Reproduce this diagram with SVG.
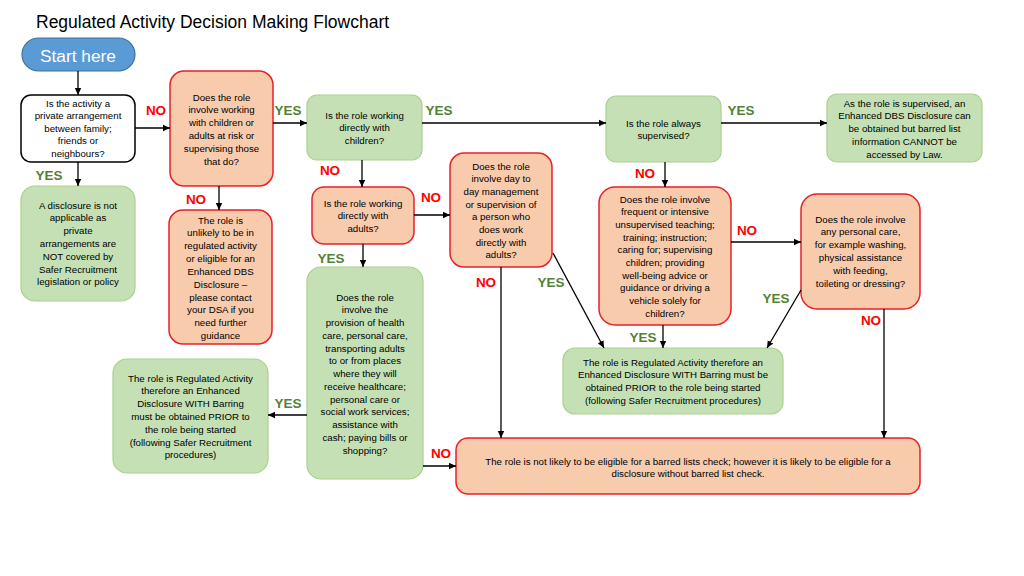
<svg xmlns="http://www.w3.org/2000/svg" width="1024" height="576" viewBox="0 0 1024 576">
<defs>
<marker id="ah" markerWidth="8" markerHeight="8" refX="7" refY="4" orient="auto" markerUnits="userSpaceOnUse">
<path d="M0,0.8 L7,4 L0,7.2 Z" fill="#000"/>
</marker>
<style>
.g{fill:#c5e0b4;stroke:#a9d18e;stroke-width:1.2}
.o{fill:#f8cbad;stroke:#e8202a;stroke-width:1.5}
.w{fill:#fff;stroke:#000;stroke-width:1.5}
.t{font-family:"Liberation Sans",Arial,sans-serif;font-size:9.7px;fill:#000;text-anchor:middle}
.yes{font-family:"Liberation Sans",Arial,sans-serif;font-size:13.5px;font-weight:bold;fill:#548235;text-anchor:middle}
.no{font-family:"Liberation Sans",Arial,sans-serif;font-size:13.5px;font-weight:bold;fill:#ff0000;text-anchor:middle}
.c line{stroke:#000;stroke-width:1.3;marker-end:url(#ah)}
</style>
</defs>
<rect width="1024" height="576" fill="#fff"/>
<text x="36" y="28" font-family="Liberation Sans,Arial,sans-serif" font-size="17.5" fill="#000">Regulated Activity Decision Making Flowchart</text>

<g id="start">
<rect x="22" y="38" width="113" height="33" rx="16.5" fill="#5b9bd5" stroke="#41719c" stroke-width="1.2"/>
<text x="78" y="61.5" text-anchor="middle" font-family="Liberation Sans,Arial,sans-serif" font-size="17.3" fill="#fff">Start here</text>
</g>

<g id="q-private">
<rect class="w" x="21" y="95" width="114" height="67" rx="10"/>
<text class="t" x="78" y="106.5"><tspan x="78">Is the activity a</tspan><tspan x="78" dy="12.6">private arrangement</tspan><tspan x="78" dy="12.6">between family;</tspan><tspan x="78" dy="12.6">friends or</tspan><tspan x="78" dy="12.6">neighbours?</tspan></text>
</g>

<g id="r-private">
<rect class="g" x="21" y="186" width="114" height="115" rx="14"/>
<text class="t" x="78" y="208.5"><tspan x="78">A disclosure is not</tspan><tspan x="78" dy="12.8">applicable as</tspan><tspan x="78" dy="12.8">private</tspan><tspan x="78" dy="12.8">arrangements are</tspan><tspan x="78" dy="12.8">NOT covered by</tspan><tspan x="78" dy="12.8">Safer Recruitment</tspan><tspan x="78" dy="12.8">legislation or policy</tspan></text>
</g>

<g id="q-working">
<rect class="o" x="170" y="71" width="103" height="115" rx="14"/>
<text class="t" x="221.5" y="100.5"><tspan x="221.5">Does the role</tspan><tspan x="221.5" dy="12.8">involve working</tspan><tspan x="221.5" dy="12.8">with children or</tspan><tspan x="221.5" dy="12.8">adults at risk or</tspan><tspan x="221.5" dy="12.8">supervising those</tspan><tspan x="221.5" dy="12.8">that do?</tspan></text>
</g>

<g id="r-unlikely">
<rect class="o" x="169" y="210" width="103" height="134" rx="14"/>
<text class="t" x="220.5" y="223.5"><tspan x="220.5">The role is</tspan><tspan x="220.5" dy="12.85">unlikely to be in</tspan><tspan x="220.5" dy="12.85">regulated activity</tspan><tspan x="220.5" dy="12.85">or eligible for an</tspan><tspan x="220.5" dy="12.85">Enhanced DBS</tspan><tspan x="220.5" dy="12.85">Disclosure –</tspan><tspan x="220.5" dy="12.85">please contact</tspan><tspan x="220.5" dy="12.85">your DSA if you</tspan><tspan x="220.5" dy="12.85">need further</tspan><tspan x="220.5" dy="12.85">guidance</tspan></text>
</g>

<g id="q-children">
<rect class="g" x="307" y="95" width="115" height="65" rx="10"/>
<text class="t" x="364.5" y="118.5"><tspan x="364.5">Is the role working</tspan><tspan x="364.5" dy="12.9">directly with</tspan><tspan x="364.5" dy="12.9">children?</tspan></text>
</g>

<g id="q-adults">
<rect class="o" x="312" y="187" width="102" height="57" rx="12"/>
<text class="t" x="363" y="206.5"><tspan x="363">Is the role working</tspan><tspan x="363" dy="12.9">directly with</tspan><tspan x="363" dy="12.9">adults?</tspan></text>
</g>

<g id="q-management">
<rect class="o" x="450" y="153" width="102" height="114" rx="14"/>
<text class="t" x="501" y="169.5"><tspan x="501">Does the role</tspan><tspan x="501" dy="12.7">involve day to</tspan><tspan x="501" dy="12.7">day management</tspan><tspan x="501" dy="12.7">or supervision of</tspan><tspan x="501" dy="12.7">a person who</tspan><tspan x="501" dy="12.7">does work</tspan><tspan x="501" dy="12.7">directly with</tspan><tspan x="501" dy="12.7">adults?</tspan></text>
</g>

<g id="q-health">
<rect class="g" x="307" y="267" width="116" height="212" rx="14"/>
<text class="t" x="365" y="300.5"><tspan x="365">Does the role</tspan><tspan x="365" dy="12.75">involve the</tspan><tspan x="365" dy="12.75">provision of health</tspan><tspan x="365" dy="12.75">care, personal care,</tspan><tspan x="365" dy="12.75">transporting adults</tspan><tspan x="365" dy="12.75">to or from places</tspan><tspan x="365" dy="12.75">where they will</tspan><tspan x="365" dy="12.75">receive healthcare;</tspan><tspan x="365" dy="12.75">personal care or</tspan><tspan x="365" dy="12.75">social work services;</tspan><tspan x="365" dy="12.75">assistance with</tspan><tspan x="365" dy="12.75">cash; paying bills or</tspan><tspan x="365" dy="12.75">shopping?</tspan></text>
</g>

<g id="r-regulated-left">
<rect class="g" x="113" y="359" width="155" height="114" rx="14"/>
<text class="t" x="190.5" y="381.5"><tspan x="190.5">The role is Regulated Activity</tspan><tspan x="190.5" dy="12.8">therefore an Enhanced</tspan><tspan x="190.5" dy="12.8">Disclosure WITH Barring</tspan><tspan x="190.5" dy="12.8">must be obtained PRIOR to</tspan><tspan x="190.5" dy="12.8">the role being started</tspan><tspan x="190.5" dy="12.8">(following Safer Recruitment</tspan><tspan x="190.5" dy="12.8">procedures)</tspan></text>
</g>

<g id="q-supervised">
<rect class="g" x="606" y="96" width="115" height="66" rx="10"/>
<text class="t" x="663.5" y="126.5"><tspan x="663.5">Is the role always</tspan><tspan x="663.5" dy="12.9">supervised?</tspan></text>
</g>

<g id="r-supervised">
<rect class="g" x="827" y="94" width="155" height="68" rx="10"/>
<text class="t" x="904.5" y="106.5"><tspan x="904.5">As the role is supervised, an</tspan><tspan x="904.5" dy="12.9">Enhanced DBS Disclosure can</tspan><tspan x="904.5" dy="12.9">be obtained but barred list</tspan><tspan x="904.5" dy="12.9">information CANNOT be</tspan><tspan x="904.5" dy="12.9">accessed by Law.</tspan></text>
</g>

<g id="q-frequent">
<rect class="o" x="599" y="187" width="132" height="138" rx="16"/>
<text class="t" x="665" y="202.5"><tspan x="665">Does the role involve</tspan><tspan x="665" dy="12.67">frequent or intensive</tspan><tspan x="665" dy="12.67">unsupervised teaching;</tspan><tspan x="665" dy="12.67">training; instruction;</tspan><tspan x="665" dy="12.67">caring for; supervising</tspan><tspan x="665" dy="12.67">children; providing</tspan><tspan x="665" dy="12.67">well-being advice or</tspan><tspan x="665" dy="12.67">guidance or driving a</tspan><tspan x="665" dy="12.67">vehicle solely for</tspan><tspan x="665" dy="12.67">children?</tspan></text>
</g>

<g id="q-personal">
<rect class="o" x="801" y="194" width="119" height="115" rx="16"/>
<text class="t" x="860.5" y="222.5"><tspan x="860.5">Does the role involve</tspan><tspan x="860.5" dy="12.9">any personal care,</tspan><tspan x="860.5" dy="12.9">for example washing,</tspan><tspan x="860.5" dy="12.9">physical assistance</tspan><tspan x="860.5" dy="12.9">with feeding,</tspan><tspan x="860.5" dy="12.9">toileting or dressing?</tspan></text>
</g>

<g id="r-regulated-mid">
<rect class="g" x="563" y="348" width="220" height="66" rx="12"/>
<text class="t" x="673" y="365.5"><tspan x="673">The role is Regulated Activity therefore an</tspan><tspan x="673" dy="12.9">Enhanced Disclosure WITH Barring must be</tspan><tspan x="673" dy="12.9">obtained PRIOR to the role being started</tspan><tspan x="673" dy="12.9">(following Safer Recruitment procedures)</tspan></text>
</g>

<g id="r-not-eligible">
<rect class="o" x="456" y="438" width="464" height="56" rx="12"/>
<text class="t" x="688" y="464.5"><tspan x="688">The role is not likely to be eligible for a barred lists check; however it is likely to be eligible for a</tspan><tspan x="688" dy="12.6">disclosure without barred list check.</tspan></text>
</g>

<g id="connectors" class="c">
<line x1="78" y1="71" x2="78" y2="95"/>
<line x1="135" y1="128" x2="170" y2="128"/>
<line x1="78" y1="162" x2="78" y2="186"/>
<line x1="273" y1="123" x2="307" y2="123"/>
<line x1="219" y1="186" x2="219" y2="210"/>
<line x1="422" y1="123" x2="606" y2="123"/>
<line x1="362" y1="160" x2="362" y2="187"/>
<line x1="414" y1="215" x2="450" y2="215"/>
<line x1="363" y1="244" x2="363" y2="267"/>
<line x1="307" y1="415" x2="268" y2="415"/>
<line x1="423" y1="466" x2="456" y2="466"/>
<line x1="501" y1="267" x2="501" y2="438"/>
<line x1="553" y1="253" x2="604" y2="348"/>
<line x1="721" y1="123" x2="827" y2="123"/>
<line x1="665" y1="162" x2="665" y2="187"/>
<line x1="731" y1="242" x2="801" y2="242"/>
<line x1="663" y1="325" x2="663" y2="348"/>
<line x1="801" y1="290" x2="767" y2="348"/>
<line x1="884" y1="309" x2="884" y2="438"/>
</g>

<g id="labels">
<text class="no" x="156" y="115">NO</text>
<text class="yes" x="49" y="180">YES</text>
<text class="yes" x="288" y="115">YES</text>
<text class="no" x="196" y="204">NO</text>
<text class="yes" x="439" y="115">YES</text>
<text class="no" x="330" y="175">NO</text>
<text class="no" x="431" y="202">NO</text>
<text class="yes" x="331" y="263">YES</text>
<text class="yes" x="741" y="115">YES</text>
<text class="no" x="645" y="178">NO</text>
<text class="no" x="747" y="235">NO</text>
<text class="yes" x="776" y="303">YES</text>
<text class="no" x="871" y="325">NO</text>
<text class="no" x="486" y="287">NO</text>
<text class="yes" x="551" y="287">YES</text>
<text class="yes" x="643" y="342">YES</text>
<text class="yes" x="288" y="408">YES</text>
<text class="no" x="441" y="458">NO</text>
</g>
</svg>
